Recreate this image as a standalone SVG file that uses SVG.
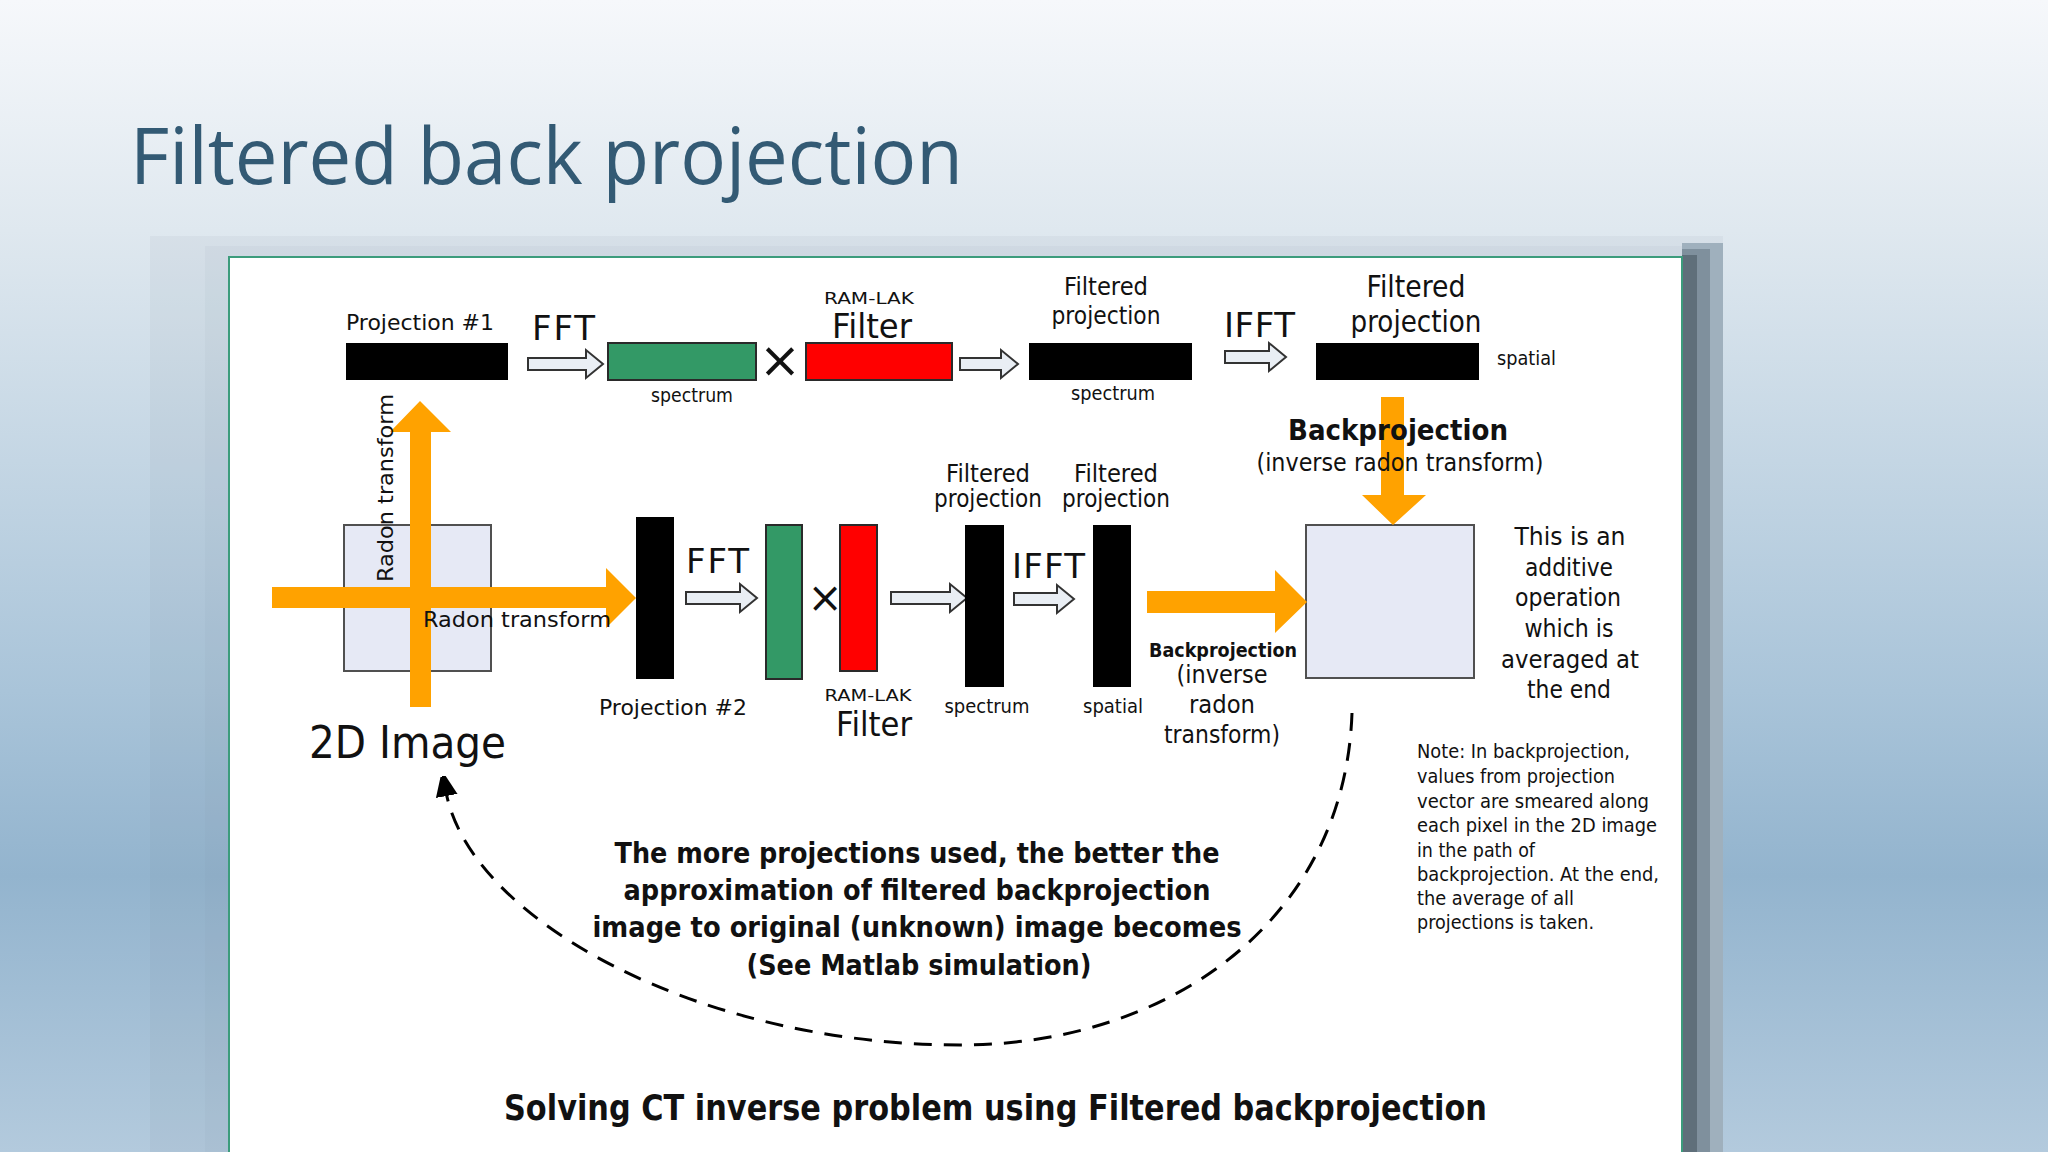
<svg xmlns="http://www.w3.org/2000/svg" width="2048" height="1152" viewBox="0 0 2048 1152">
<defs>
<linearGradient id="bg" x1="0" y1="0" x2="0" y2="1">
<stop offset="0" stop-color="#f6f8fb"/>
<stop offset="0.2" stop-color="#dfe8ef"/>
<stop offset="0.6" stop-color="#a9c4d9"/>
<stop offset="0.76" stop-color="#93b4ce"/>
<stop offset="1" stop-color="#b3cadd"/>
</linearGradient>
<marker id="ah" viewBox="0 0 20 30" refX="4" refY="15" markerWidth="20" markerHeight="30" markerUnits="userSpaceOnUse" orient="auto">
<path d="M0 4 L26 15 L0 26 Z" fill="#000"/>
</marker>
<style>
.t{font-family:"DejaVu Sans","Liberation Sans",sans-serif;fill:#111}
.b{font-weight:bold}
.m{text-anchor:middle}
.hol{fill:#e9eef4;stroke:#333;stroke-width:2;stroke-linejoin:miter}
.org{fill:#ffa200}
.blk{fill:#000}
.grn{fill:#339966;stroke:#2a2a2a;stroke-width:2}
.red{fill:#ff0000;stroke:#2a2a2a;stroke-width:2}
.img{fill:#e6e9f5;stroke:#505050;stroke-width:2}
</style>
</defs>
<rect width="2048" height="1152" fill="url(#bg)"/>
<g id="shadow">
<rect x="150" y="236" width="1573" height="916" fill="#6f8294" opacity="0.07"/>
<rect x="205" y="246" width="1518" height="906" fill="#6f8294" opacity="0.06"/>
<rect x="1682" y="243" width="41" height="909" fill="#9fb0bd"/>
<rect x="1682" y="249" width="28" height="903" fill="#7f909d"/>
<rect x="1682" y="255" width="15" height="897" fill="#5f6f7a"/>
</g>
<rect id="panel" x="229" y="257" width="1453" height="900" fill="#ffffff" stroke="#3c9c7c" stroke-width="2"/>
<text id="title" x="130" y="184" font-family="Open Sans, Liberation Sans, sans-serif" font-size="78" fill="#335a74" textLength="833" lengthAdjust="spacingAndGlyphs">Filtered back projection</text>

<g id="node-2d-image">
<rect class="img" x="344" y="525" width="147" height="146"/>
</g>
<g id="node-result">
<rect class="img" x="1306" y="525" width="168" height="153"/>
</g>

<g id="connectors">
<path class="hol" d="M528 358 L586 358 L586 350 L603 364 L586 378 L586 370 L528 370 Z"/>
<path class="hol" d="M960 358 L1001 358 L1001 350 L1018 364 L1001 378 L1001 370 L960 370 Z"/>
<path class="hol" d="M1225 351 L1269 351 L1269 343 L1286 357 L1269 371 L1269 363 L1225 363 Z"/>
<path class="hol" d="M686 592 L740 592 L740 584 L757 598 L740 612 L740 604 L686 604 Z"/>
<path class="hol" d="M891 592 L950 592 L950 584 L967 598 L950 612 L950 604 L891 604 Z"/>
<path class="hol" d="M1014 593 L1057 593 L1057 585 L1074 599 L1057 613 L1057 605 L1014 605 Z"/>
<path class="org" d="M410 707 L410 432 L390 432 L420 401 L451 432 L431 432 L431 707 Z"/>
<path class="org" d="M272 587 L606 587 L606 568 L636 598 L606 628 L606 608 L272 608 Z"/>
<path class="org" d="M1147 591 L1275 591 L1275 570 L1307 602 L1275 633 L1275 613 L1147 613 Z"/>
<path class="org" d="M1381 397 L1404 397 L1404 495 L1426 495 L1393 525 L1362 495 L1381 495 Z"/>
<path d="M1352 713 C1345 920 1170 1045 960 1045 C700 1045 470 920 446 792" fill="none" stroke="#000" stroke-width="3" stroke-dasharray="18 12" marker-end="url(#ah)"/>
</g>

<g id="labels-2d">
<text class="t" transform="translate(393 582) rotate(-90)" font-size="22" textLength="188" lengthAdjust="spacingAndGlyphs">Radon transform</text>
<text class="t" x="423" y="627" font-size="22" textLength="188" lengthAdjust="spacingAndGlyphs">Radon transform</text>
<text class="t" x="309" y="758" font-size="44" textLength="197" lengthAdjust="spacingAndGlyphs">2D Image</text>
</g>

<g id="node-projection1">
<rect class="blk" x="346" y="343" width="162" height="37"/>
<text class="t" x="346" y="330" font-size="22" textLength="148" lengthAdjust="spacingAndGlyphs">Projection #1</text>
</g>
<g id="label-fft1"><text class="t" x="532" y="340" font-size="34" textLength="63" lengthAdjust="spacing">FFT</text></g>
<g id="node-spectrum1">
<rect class="grn" x="608" y="343" width="148" height="37"/>
<text class="t m" x="692" y="402" font-size="20" textLength="82" lengthAdjust="spacingAndGlyphs">spectrum</text>
</g>
<text class="t m" x="780" y="377" font-size="50">×</text>
<g id="node-filter1">
<rect class="red" x="806" y="343" width="146" height="37"/>
<text class="t m" x="869" y="304" font-size="16" textLength="90" lengthAdjust="spacingAndGlyphs">RAM-LAK</text>
<text class="t m" x="872" y="338" font-size="33" textLength="80" lengthAdjust="spacingAndGlyphs">Filter</text>
</g>
<g id="node-filtered-spectrum1">
<rect class="blk" x="1029" y="343" width="163" height="37"/>
<text class="t m" x="1106" y="295" font-size="24" textLength="84" lengthAdjust="spacingAndGlyphs">Filtered</text>
<text class="t m" x="1106" y="324" font-size="24" textLength="109" lengthAdjust="spacingAndGlyphs">projection</text>
<text class="t m" x="1113" y="400" font-size="20" textLength="84" lengthAdjust="spacingAndGlyphs">spectrum</text>
</g>
<g id="label-ifft1"><text class="t" x="1224" y="337" font-size="34" textLength="71" lengthAdjust="spacing">IFFT</text></g>
<g id="node-filtered-spatial1">
<rect class="blk" x="1316" y="343" width="163" height="37"/>
<text class="t m" x="1416" y="297" font-size="30" textLength="99" lengthAdjust="spacingAndGlyphs">Filtered</text>
<text class="t m" x="1416" y="332" font-size="30" textLength="131" lengthAdjust="spacingAndGlyphs">projection</text>
<text class="t" x="1497" y="365" font-size="20" textLength="59" lengthAdjust="spacingAndGlyphs">spatial</text>
</g>
<g id="label-backprojection-top">
<text class="t b m" x="1398" y="440" font-size="28" textLength="220" lengthAdjust="spacingAndGlyphs">Backprojection</text>
<text class="t m" x="1400" y="471" font-size="24" textLength="287" lengthAdjust="spacingAndGlyphs">(inverse radon transform)</text>
</g>

<g id="node-projection2">
<rect class="blk" x="636" y="517" width="38" height="162"/>
<text class="t" x="599" y="715" font-size="22" textLength="148" lengthAdjust="spacingAndGlyphs">Projection #2</text>
</g>
<g id="label-fft2"><text class="t" x="686" y="573" font-size="34" textLength="63" lengthAdjust="spacing">FFT</text></g>
<g id="node-spectrum2"><rect class="grn" x="766" y="525" width="36" height="154"/></g>
<text class="t m" x="825" y="612" font-size="42">×</text>
<g id="node-filter2">
<rect class="red" x="840" y="525" width="37" height="146"/>
<text class="t m" x="868" y="701" font-size="16" textLength="87" lengthAdjust="spacingAndGlyphs">RAM-LAK</text>
<text class="t m" x="874" y="736" font-size="33" textLength="76" lengthAdjust="spacingAndGlyphs">Filter</text>
</g>
<g id="node-filtered-spectrum2">
<rect class="blk" x="965" y="525" width="39" height="162"/>
<text class="t m" x="988" y="482" font-size="25" textLength="84" lengthAdjust="spacingAndGlyphs">Filtered</text>
<text class="t m" x="988" y="507" font-size="25" textLength="108" lengthAdjust="spacingAndGlyphs">projection</text>
<text class="t m" x="987" y="713" font-size="20" textLength="85" lengthAdjust="spacingAndGlyphs">spectrum</text>
</g>
<g id="label-ifft2"><text class="t" x="1012" y="578" font-size="34" textLength="73" lengthAdjust="spacing">IFFT</text></g>
<g id="node-filtered-spatial2">
<rect class="blk" x="1093" y="525" width="38" height="162"/>
<text class="t m" x="1116" y="482" font-size="25" textLength="84" lengthAdjust="spacingAndGlyphs">Filtered</text>
<text class="t m" x="1116" y="507" font-size="25" textLength="108" lengthAdjust="spacingAndGlyphs">projection</text>
<text class="t m" x="1113" y="713" font-size="20" textLength="60" lengthAdjust="spacingAndGlyphs">spatial</text>
</g>
<g id="label-backprojection-mid">
<text class="t b m" x="1223" y="657" font-size="19" textLength="148" lengthAdjust="spacingAndGlyphs">Backprojection</text>
<text class="t m" x="1222" y="683" font-size="24" textLength="91" lengthAdjust="spacingAndGlyphs">(inverse</text>
<text class="t m" x="1222" y="713" font-size="24" textLength="66" lengthAdjust="spacingAndGlyphs">radon</text>
<text class="t m" x="1222" y="743" font-size="24" textLength="116" lengthAdjust="spacingAndGlyphs">transform)</text>
</g>
<g id="label-additive" class="t m" font-size="25">
<text x="1570" y="545" textLength="111" lengthAdjust="spacingAndGlyphs">This is an</text>
<text x="1569" y="576" textLength="88" lengthAdjust="spacingAndGlyphs">additive</text>
<text x="1568" y="606" textLength="106" lengthAdjust="spacingAndGlyphs">operation</text>
<text x="1569" y="637" textLength="89" lengthAdjust="spacingAndGlyphs">which is</text>
<text x="1570" y="668" textLength="138" lengthAdjust="spacingAndGlyphs">averaged at</text>
<text x="1569" y="698" textLength="84" lengthAdjust="spacingAndGlyphs">the end</text>
</g>
<g id="label-note" class="t" font-size="19" fill="#222">
<text x="1417" y="758" textLength="213" lengthAdjust="spacingAndGlyphs">Note: In backprojection,</text>
<text x="1417" y="783" textLength="198" lengthAdjust="spacingAndGlyphs">values from projection</text>
<text x="1417" y="808" textLength="232" lengthAdjust="spacingAndGlyphs">vector are smeared along</text>
<text x="1417" y="832" textLength="240" lengthAdjust="spacingAndGlyphs">each pixel in the 2D image</text>
<text x="1417" y="857" textLength="118" lengthAdjust="spacingAndGlyphs">in the path of</text>
<text x="1417" y="881" textLength="242" lengthAdjust="spacingAndGlyphs">backprojection. At the end,</text>
<text x="1417" y="905" textLength="157" lengthAdjust="spacingAndGlyphs">the average of all</text>
<text x="1417" y="929" textLength="177" lengthAdjust="spacingAndGlyphs">projections is taken.</text>
</g>
<g id="label-more" class="t b m" font-size="28">
<text x="917" y="863" textLength="605" lengthAdjust="spacingAndGlyphs">The more projections used, the better the</text>
<text x="917" y="900" textLength="587" lengthAdjust="spacingAndGlyphs">approximation of filtered backprojection</text>
<text x="917" y="937" textLength="649" lengthAdjust="spacingAndGlyphs">image to original (unknown) image becomes</text>
<text x="919" y="975" textLength="345" lengthAdjust="spacingAndGlyphs">(See Matlab simulation)</text>
</g>
<text id="caption" class="t b" x="504" y="1120" font-size="35" textLength="983" lengthAdjust="spacingAndGlyphs">Solving CT inverse problem using Filtered backprojection</text>
</svg>
